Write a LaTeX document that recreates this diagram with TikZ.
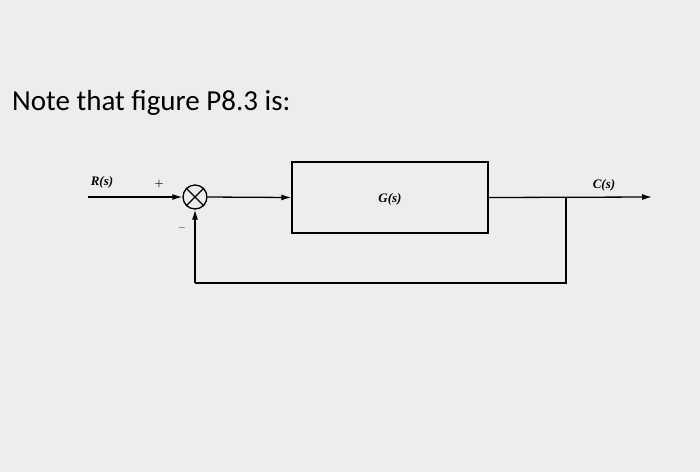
\documentclass[tikz,border=0pt]{standalone}
\usepackage{fontspec}
\newfontfamily\notefont{Carlito}
\newfontfamily\lblfont{Liberation Serif}
\usetikzlibrary{arrows.meta}
\begin{document}
\begin{tikzpicture}[x=1pt,y=-1pt,
  sig/.style={line width=1.3pt,-{Latex[length=10pt,width=6pt]}},
  wire/.style={line width=1.3pt},
  lbl/.style={font=\lblfont\fontsize{13}{15}\selectfont\bfseries\itshape}]
\fill[black!7] (0,0) rectangle (700,472);
\useasboundingbox (0,0) rectangle (700,472);
\node[anchor=base west,inner sep=0,font=\notefont\fontsize{29}{34}\selectfont] (t) at (12,110) {Note that figure P8.3 is:};
\coordinate (in) at (88,197);
\node[draw,circle,line width=1.3pt,minimum size=24pt,inner sep=0] (sum) at (195,197) {};
\draw[line width=1.3pt] (sum.north west)--(sum.south east) (sum.north east)--(sum.south west);
\node[draw,line width=1.3pt,minimum width=196pt,minimum height=71pt,inner sep=0] (g) at (390,197.5) {};
\node[lbl] (gl) at (390,199) {G(s)};
\node[lbl] (rl) at (102,182) {R(s)};
\node[lbl] (cl) at (604,185) {C(s)};
\node[font=\bfseries] (plus) at (159,184) {+};
\node[font=\bfseries] (minus) at (182,228) {$-$};
\coordinate (out) at (652,197);
\coordinate (br) at (566,197);
\coordinate (b1) at (566,283);
\coordinate (b2) at (195,283);
\draw[sig] (in) -- (sum.west);
\draw[sig] (sum.east) -- (g.west);
\draw[sig] (g.east) -- (out);
\draw[wire] (br) -- (b1) -- (b2);
\draw[sig] (b2) -- (sum.south);
\end{tikzpicture}
\end{document}
